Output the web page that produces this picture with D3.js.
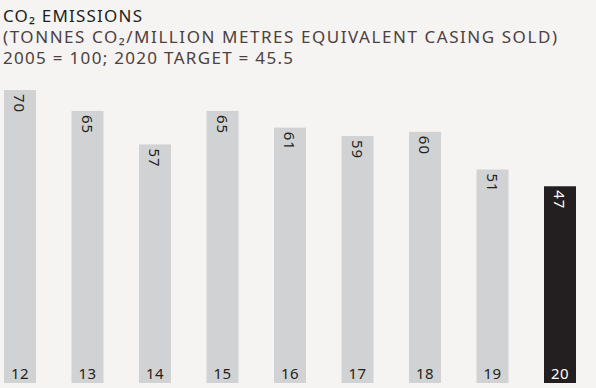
<!DOCTYPE html>
<html>
<head>
<meta charset="utf-8">
<script src="https://cdn.jsdelivr.net/npm/d3@7"></script>
<style>
  html, body { margin: 0; padding: 0; background: #f5f4f2; }
  svg { display: block; font-family: 'Noto Sans', sans-serif; }
</style>
</head>
<body>
<div class="view"></div>
<script>
// data
const years = ['12', '13', '14', '15', '16', '17', '18', '19', '20']
const values = [70, 65, 57, 65, 61, 59, 60, 51, 47]
const highlight = '20'
const titles = [
    'CO\u2082 EMISSIONS',
    '(TONNES CO\u2082/MILLION METRES EQUIVALENT CASING SOLD)',
    '2005 = 100; 2020 TARGET = 45.5'
]

const w = 596
const h = 388
const base = 383

const svg = d3.select('.view')
    .append('svg')
    .attr('width', w)
    .attr('height', h)

const xScale = d3.scaleBand()
    .domain(years)
    .range([4, 576])
    .paddingInner(1 - 32 / 67.5)
    .paddingOuter(0)

const yScale = d3.scaleLinear()
    .domain([0, 70])
    .range([base, 90])

const dataset = years.map((y, i) => ({ year: y, value: values[i] }))

// bars
svg.selectAll('rect.bar')
    .data(dataset)
    .enter()
    .append('rect')
    .attr('class', 'bar')
    .attr('x', d => xScale(d.year))
    .attr('y', d => yScale(d.value))
    .attr('width', xScale.bandwidth())
    .attr('height', d => base - yScale(d.value))
    .attr('fill', d => d.year == highlight ? '#231f20' : '#d1d2d3')

// value labels (rotated)
svg.selectAll('text.val')
    .data(dataset)
    .enter()
    .append('text')
    .attr('class', 'val')
    .attr('transform', d => 'translate(' + (xScale(d.year) + xScale.bandwidth() / 2) + ',' + (yScale(d.value) + 4) + ') rotate(90)')
    .attr('dominant-baseline', 'central')
    .attr('font-size', 15)
    .attr('letter-spacing', 1)
    .attr('fill', d => d.year == highlight ? '#ffffff' : '#231f20')
    .text(d => d.value)

// year labels
svg.selectAll('text.year')
    .data(dataset)
    .enter()
    .append('text')
    .attr('class', 'year')
    .attr('x', d => xScale(d.year) + xScale.bandwidth() / 2)
    .attr('y', 379)
    .attr('text-anchor', 'middle')
    .attr('font-size', 15)
    .attr('letter-spacing', 0.5)
    .attr('fill', d => d.year == highlight ? '#ffffff' : '#231f20')
    .text(d => d.year)

// titles, stretched to the reference widths
const titleWidths = [139, 554, 290]
svg.selectAll('text.title')
    .data(titles)
    .enter()
    .append('text')
    .attr('class', 'title')
    .attr('x', 3)
    .attr('y', (d, i) => 22 + i * 21)
    .attr('font-size', 17)
    .attr('fill', (d, i) => i == 0 ? '#231f20' : '#4d4040')
    .attr('textLength', (d, i) => titleWidths[i])
    .attr('lengthAdjust', 'spacing')
    .text(d => d)
</script>
</body>
</html>
